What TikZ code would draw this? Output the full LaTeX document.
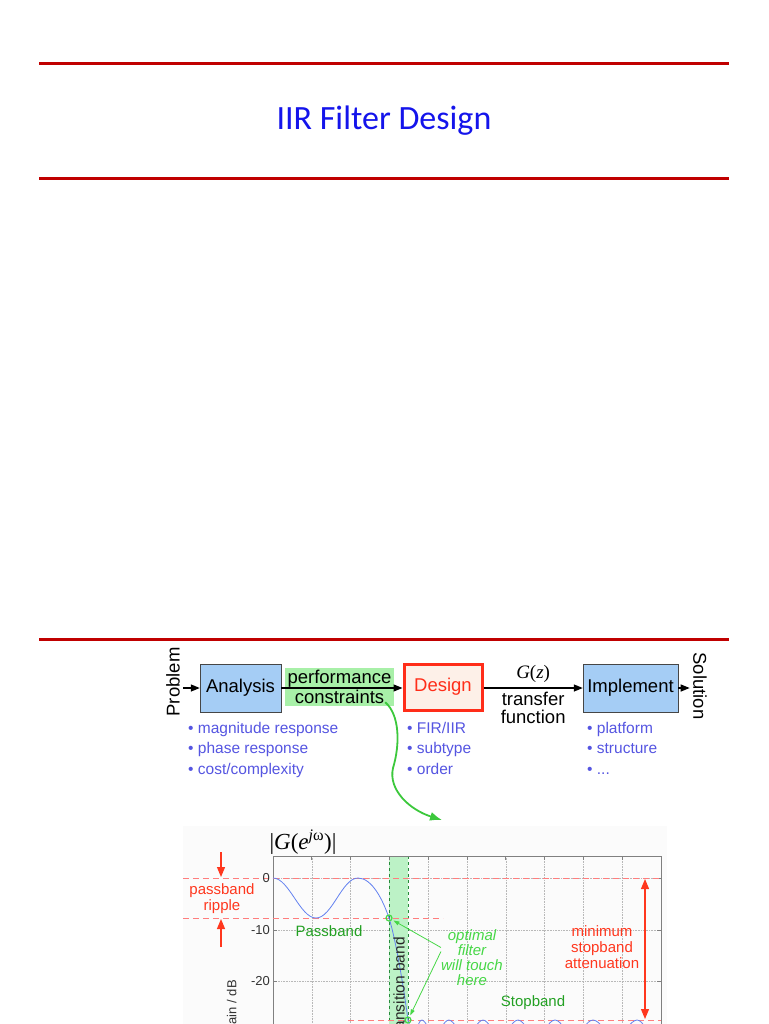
\documentclass[tikz,border=0pt]{standalone}
\usepackage{fontspec}
\setmainfont{Liberation Sans}
\newfontfamily\titlefont{Carlito}
\newfontfamily\seriffont{Liberation Serif}
\usetikzlibrary{arrows.meta, positioning, calc}

\definecolor{slidered}{RGB}{192,0,0}
\definecolor{titleblue}{RGB}{20,20,235}
\definecolor{boxblue}{RGB}{165,205,245}
\definecolor{boxedge}{RGB}{70,70,70}
\definecolor{designfill}{RGB}{253,240,232}
\definecolor{designred}{RGB}{255,45,25}
\definecolor{perfgreen}{RGB}{168,240,168}
\definecolor{bulletblue}{RGB}{85,85,225}
\definecolor{linkgreen}{RGB}{60,200,60}
\definecolor{hintgreen}{RGB}{70,215,70}
\definecolor{bandtext}{RGB}{35,160,35}
\definecolor{bandfill}{RGB}{188,242,198}
\definecolor{bandedge}{RGB}{40,140,60}
\definecolor{dimred}{RGB}{255,55,30}
\definecolor{levelred}{RGB}{255,125,125}
\definecolor{curveblue}{RGB}{100,130,240}

\begin{document}
\begin{tikzpicture}[
    x=1pt, y=-1pt,
    rule/.style={slidered, line width=3pt},
    block/.style={draw=boxedge, fill=boxblue, minimum height=48pt, inner sep=2pt, font=\fontsize{18.5}{20}\selectfont},
    designblock/.style={draw=designred, line width=3pt, fill=designfill, text=designred, minimum width=78pt, minimum height=46pt, font=\fontsize{18.5}{20}\selectfont},
    perf/.style={fill=perfgreen, minimum width=109pt, minimum height=38pt, inner sep=0pt, align=center, font=\fontsize{18.5}{20}\selectfont},
    side/.style={font=\fontsize{18.5}{20}\selectfont},
    bullets/.style={align=left, text=bulletblue, inner sep=0pt, anchor=north west, font=\fontsize{15.5}{20.5}\selectfont},
    arrow/.style={-{Triangle[length=9pt,width=7pt]}, line width=1.3pt},
    link/.style={-{Latex[length=12pt,width=9pt]}, linkgreen, line width=1.8pt},
    grid/.style={densely dotted, black!28, line width=0.6pt},
    frame/.style={black!50, line width=0.8pt},
    level/.style={levelred, dash pattern=on 6pt off 4pt, line width=0.8pt},
    dim/.style={{Triangle[length=10pt,width=8pt]}-{Triangle[length=10pt,width=8pt]}, dimred, line width=1.2pt},
    dimone/.style={-{Triangle[length=10pt,width=8pt]}, dimred, line width=1.2pt},
    touch/.style={circle, draw=hintgreen, line width=1.2pt, inner sep=0pt, minimum size=6pt},
    hint/.style={-{Triangle[length=6pt,width=4pt]}, hintgreen, line width=0.8pt, shorten >=1.5pt},
    redlabel/.style={text=dimred, align=center, inner sep=0pt, font=\fontsize{15}{15.5}\selectfont},
    bandlabel/.style={text=bandtext, inner sep=0pt, font=\fontsize{15}{16}\selectfont},
    tick/.style={anchor=east, inner sep=0pt, text=black!80, font=\fontsize{13}{14}\selectfont}
]
    \useasboundingbox (0,0) rectangle (768,1024);

    % slide rules and title
    \draw[rule] (39,64) -- (729,64);
    \draw[rule] (39,179) -- (729,179);
    \draw[rule] (39,639) -- (729,639);
    \node[text=titleblue, font=\titlefont\fontsize{34}{40}\selectfont] (title) at (384,121) {IIR Filter Design};

    % design flow
    \node[side, rotate=90] (problem) at (173,682) {Problem};
    \node[block, minimum width=81pt] (analysis) at (240.5,688) {Analysis};
    \node[perf] (constraints) at (339.5,687) {performance\\constraints};
    \node[designblock] (design) at (443,687) {Design};
    \node[block, minimum width=95pt] (implement) at (630.5,688) {Implement};
    \node[side, rotate=-90] (solution) at (700,686) {Solution};

    \draw[arrow] (problem.south |- analysis.west) -- (analysis.west);
    \draw[arrow] (analysis.east) -- (analysis.east -| design.west);
    \draw[arrow] (design.east |- implement.west) -- node[above=1pt, font=\seriffont\fontsize{19}{20}\selectfont] {\textit{G}(\textit{z})}
        node[below=0pt, align=center, font=\fontsize{18.5}{18.5}\selectfont] {transfer\\function} (implement.west);
    \draw[arrow] (implement.east) -- (solution.south |- implement.east);

    \node[bullets] (analysislist) at (188,722) {\textbullet\ magnitude response\\\textbullet\ phase response\\\textbullet\ cost/complexity};
    \node[bullets] (designlist) at (407,722) {\textbullet\ FIR/IIR\\\textbullet\ subtype\\\textbullet\ order};
    \node[bullets] (implementlist) at (587,722) {\textbullet\ platform\\\textbullet\ structure\\\textbullet\ ...};

    \coordinate (zoomto) at (442,820);
    \draw[link] ($(constraints.south east)+(-9,-4)$) .. controls (400,715) and (400,745) .. (393,768)
        .. controls (388,790) and (410,810) .. (zoomto);

    % magnitude response plot
    \begin{scope}
        \clip (0,800) rectangle (768,1024);
        \fill[black!1.5] (183,826) rectangle (667,1024);
        \foreach \k in {1,...,9}
            \draw[grid] (273+38.8*\k,856) -- (273+38.8*\k,1024);
        \foreach \v in {878,930,981}
            \draw[grid] (273,\v) -- (661,\v);
        \fill[bandfill] (389,856) rectangle (408,1024);
        \draw[bandedge, dashed, line width=0.7pt] (389,856) -- (389,1024) (408,856) -- (408,1024);
        \draw[frame] (273,1024) -- (273,856) -- (661,856) -- (661,1024);
        \foreach \k in {1,...,9}
            \draw[frame] (273+38.8*\k,856) -- (273+38.8*\k,860);
        \foreach \v in {878,930,981} {
            \draw[frame] (273,\v) -- (277,\v);
            \draw[frame] (661,\v) -- (657,\v);
        }
        \draw[level] (183,878) -- (661,878);
        \draw[level] (183,918) -- (443,918);
        \draw[level] (348,1020) -- (661,1020);

        \draw[curveblue, line width=0.8pt] (273,878) .. controls (289,878) and (300,918) .. (316,918)
            .. controls (332,918) and (342,878) .. (358,878)
            .. controls (372,878) and (383,900) .. (389,918)
            .. controls (396,940) and (404,990) .. (408,1020);
        \draw[curveblue, line width=0.8pt] plot[smooth, tension=0.6] coordinates {(408,1020) (414,1033) (422,1020)
            (435,1034) (449,1020) (466,1036) (483,1020) (500,1036) (518,1020) (536,1036) (555,1020)
            (574,1036) (593,1020) (615,1036) (637,1020) (652,1036) (661,1030)};

        \node[touch] (passedge) at (389,918) {};
        \node[touch] (stopedge) at (408,1020) {};

        \node[tick] (tzero) at (270,878) {0};
        \node[tick] (tten) at (270,930) {-10};
        \node[tick] (ttwenty) at (270,981) {-20};
        \node[rotate=90, anchor=east, inner sep=0pt, text=black!80, font=\fontsize{13}{14}\selectfont] (gainlabel) at (233,980) {gain / dB};
        \node[rotate=90, anchor=east, inner sep=0pt, text=black!85, font=\fontsize{15.5}{16}\selectfont] (bandname) at (399,937) {transition band};
    \end{scope}

    \node[font=\seriffont\fontsize{23}{24}\selectfont, inner sep=0pt] (gainhead) at (303,842) {|\textit{G}(\textit{e}\textsuperscript{\textit{j}ω})|};

    \node[redlabel] (ripple) at (222,898.5) {passband\\ripple};
    \draw[dimone] (221,852) -- (221,877);
    \draw[dimone] (221,947) -- (221,919);
    \node[redlabel, font=\fontsize{15}{16}\selectfont] (attenuation) at (602,947) {minimum\\stopband\\attenuation};
    \draw[dim] (645,879) -- (645,1019);

    \node[bandlabel] (passband) at (329,931) {Passband};
    \node[bandlabel] (stopband) at (533,1003) {Stopband};
    \node[align=center, text=hintgreen, inner sep=0pt, font=\itshape\fontsize{15}{15}\selectfont] (optimal) at (472,957.5) {optimal\\filter\\will touch\\here};
    \draw[hint] ([yshift=10pt]optimal.west) -- (passedge);
    \draw[hint] ([yshift=6pt]optimal.west) -- (stopedge);
\end{tikzpicture}
\end{document}
